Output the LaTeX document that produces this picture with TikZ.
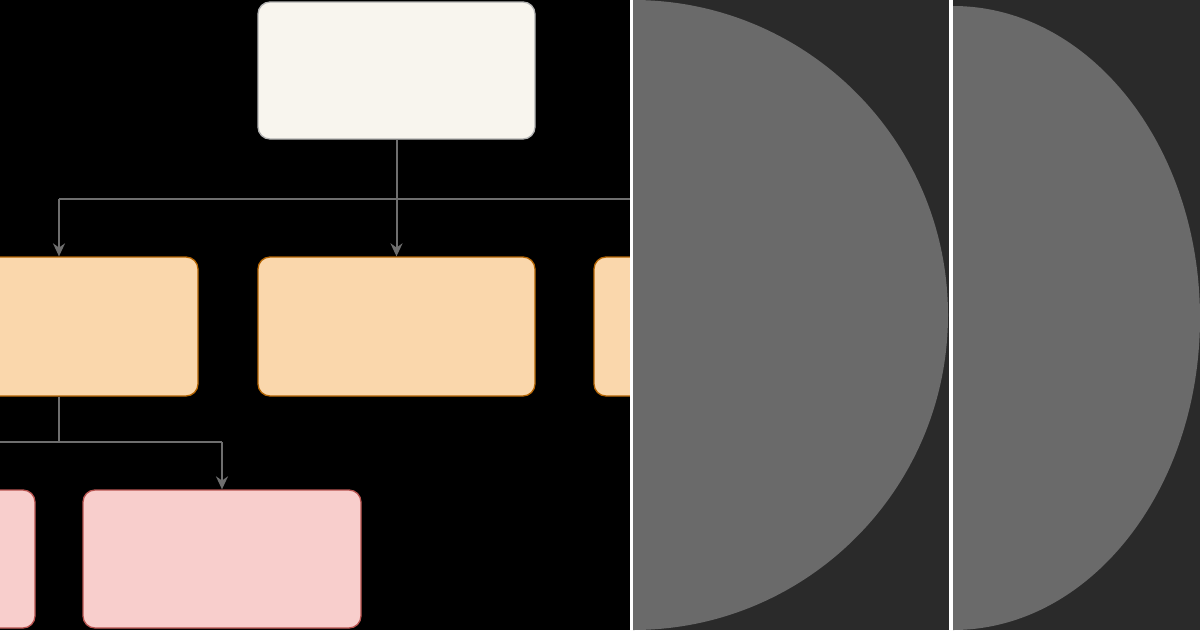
\documentclass[tikz,border=0pt]{standalone}
\usetikzlibrary{arrows.meta}
\definecolor{topf}{HTML}{F8F5EE}
\definecolor{orf}{HTML}{FAD7AC}
\definecolor{ord}{HTML}{B46504}
\definecolor{pkf}{HTML}{F8CECC}
\definecolor{pkd}{HTML}{B85450}
\definecolor{panel}{HTML}{2A2A2A}
\definecolor{disc}{HTML}{6A6A6A}
\definecolor{conn}{HTML}{6E6E6E}
\tikzset{x=1pt,y=-1pt,
 box/.style={rounded corners=12pt,line width=1.3pt},
 conn/.style={draw=conn,line width=2pt},
 arr/.style={conn,-{Stealth[length=13pt,width=12pt]}}}
\begin{document}
\begin{tikzpicture}
\fill[black] (0,0) rectangle (1200,630);
\useasboundingbox (0,0) rectangle (1200,630);
\node[box,draw=gray!60,fill=topf,minimum width=277pt,minimum height=137pt] (top) at (396.5,70.5) {};
\node[box,draw=ord,fill=orf,minimum width=240pt,minimum height=139pt] (o1) at (78,326.5) {};
\node[box,draw=ord,fill=orf,minimum width=277pt,minimum height=139pt] (o2) at (396.5,326.5) {};
\node[box,draw=ord,fill=orf,minimum width=200pt,minimum height=139pt] (o3) at (694,326.5) {};
\node[box,draw=pkd,fill=pkf,minimum width=100pt,minimum height=138pt] (p1) at (-15,559) {};
\node[box,draw=pkd,fill=pkf,minimum width=278pt,minimum height=138pt] (p2) at (222,559) {};
\coordinate (hl) at (59,199);
\coordinate (hr) at (640,199);
\coordinate (b1) at (59,442);
\coordinate (bl) at (-5,442);
\coordinate (br) at (222,442);
\draw[arr] (top.south) -- (o2.north);
\draw[conn] (hl) -- (hr);
\draw[arr] (hl) -- (hl |- o1.north);
\draw[conn] (b1 |- o1.south) -- (b1);
\draw[conn] (bl) -- (br);
\draw[arr] (br) -- (br |- p2.north);
\fill[panel] (631,0) rectangle (1200,630);
\fill[disc] (633,0) arc[start angle=-90,end angle=90,radius=315] -- cycle;
\fill[disc] (953,6) arc[start angle=-90,end angle=90,x radius=247,y radius=312] -- cycle;
\fill[white] (630,0) rectangle (633,630);
\fill[white] (949,0) rectangle (952.5,630);
\end{tikzpicture}
\end{document}
